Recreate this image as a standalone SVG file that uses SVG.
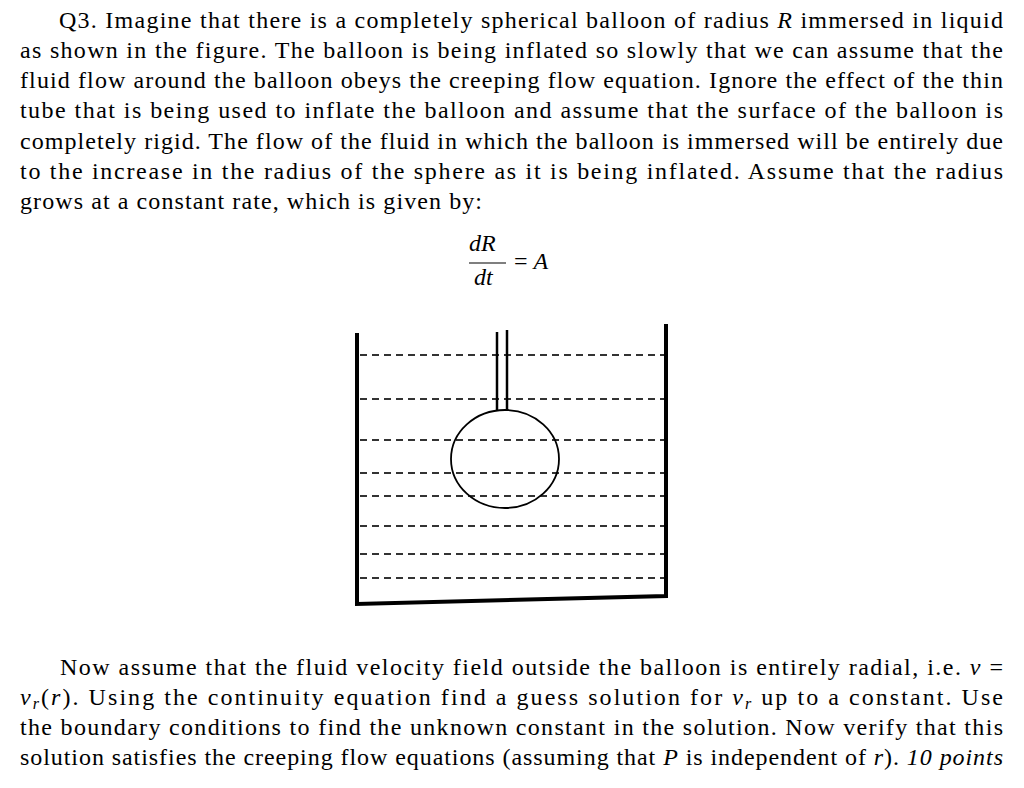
<svg xmlns="http://www.w3.org/2000/svg" width="1024" height="788" viewBox="0 0 1024 788">
<style>
text{font-family:"Liberation Serif","DejaVu Serif",serif;font-size:24px;fill:#000}
.i{font-style:italic}
.d{stroke:#333;stroke-width:2;stroke-dasharray:7,5}
</style>
<rect width="1024" height="788" fill="#fff"/>
<g id="text">
<text x="59" y="28" textLength="944" lengthAdjust="spacing">Q3. Imagine that there is a completely spherical balloon of radius <tspan class="i">R</tspan> immersed in liquid</text>
<text x="20" y="58" textLength="983" lengthAdjust="spacing">as shown in the figure. The balloon is being inflated so slowly that we can assume that the</text>
<text x="20" y="88" textLength="983" lengthAdjust="spacing">fluid flow around the balloon obeys the creeping flow equation. Ignore the effect of the thin</text>
<text x="20" y="118" textLength="983" lengthAdjust="spacing">tube that is being used to inflate the balloon and assume that the surface of the balloon is</text>
<text x="20" y="149" textLength="983" lengthAdjust="spacing">completely rigid. The flow of the fluid in which the balloon is immersed will be entirely due</text>
<text x="20" y="179" textLength="983" lengthAdjust="spacing">to the increase in the radius of the sphere as it is being inflated. Assume that the radius</text>
<text x="20" y="209" textLength="462" lengthAdjust="spacing">grows at a constant rate, which is given by:</text>
<text x="469" y="251" class="i" font-size="23">dR</text>
<line x1="469" y1="263" x2="506" y2="263" stroke="#000" stroke-width="1.2"/>
<text x="474" y="285" class="i" font-size="23">dt</text>
<text x="514" y="269" font-size="23">= <tspan class="i">A</tspan></text>
<text x="60" y="675" textLength="943" lengthAdjust="spacing">Now assume that the fluid velocity field outside the balloon is entirely radial, i.e. <tspan class="i">v</tspan> =</text>
<text x="20" y="705" textLength="983" lengthAdjust="spacing"><tspan class="i">v</tspan><tspan font-size="16" class="i" dy="4">r</tspan><tspan dy="-4">(</tspan><tspan class="i">r</tspan>).  Using the continuity equation find a guess solution for <tspan class="i">v</tspan><tspan font-size="16" class="i" dy="4">r</tspan><tspan dy="-4"> up to a constant.  Use</tspan></text>
<text x="20" y="735" textLength="983" lengthAdjust="spacing">the boundary conditions to find the unknown constant in the solution. Now verify that this</text>
<text x="20" y="765" textLength="983" lengthAdjust="spacing">solution satisfies the creeping flow equations (assuming that <tspan class="i">P</tspan> is independent of <tspan class="i">r</tspan>). <tspan class="i">10 points</tspan></text>
</g>
<g id="figure" fill="none">
<g id="dashes">
<line class="d" x1="360" y1="355" x2="664" y2="355"/>
<line class="d" x1="360" y1="399" x2="664" y2="399"/>
<line class="d" x1="360" y1="440" x2="664" y2="440"/>
<line class="d" x1="360" y1="473" x2="664" y2="473"/>
<line class="d" x1="360" y1="496" x2="664" y2="496"/>
<line class="d" x1="360" y1="526" x2="664" y2="526"/>
<line class="d" x1="360" y1="554" x2="664" y2="554"/>
<line class="d" x1="360" y1="578" x2="664" y2="578"/>
</g>
<g id="tank" stroke="#000" stroke-width="4">
<polyline points="357,333 357,604 666,596 666,324"/>
</g>
<g id="balloon" stroke="#000">
<line x1="497" y1="332" x2="497" y2="411" stroke-width="2.5"/>
<line x1="507" y1="330" x2="507" y2="411" stroke-width="2.5"/>
<ellipse cx="505" cy="459" rx="54" ry="49" stroke-width="1.8" fill="none"/>
</g>
</g>
</svg>
